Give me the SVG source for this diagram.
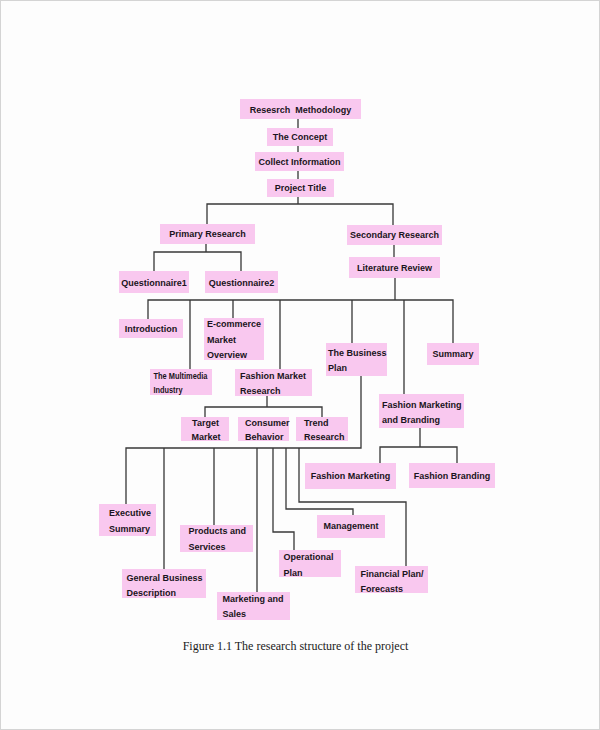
<svg xmlns="http://www.w3.org/2000/svg" width="600" height="730" viewBox="0 0 600 730">
<style>
.b{fill:#f9c8ef}
.t{font-family:"Liberation Sans",Arial,sans-serif;font-weight:bold;font-size:9px;fill:#1a1420;white-space:pre}
.c{text-anchor:middle}
.ln{fill:none;stroke:#383838;stroke-width:1.3}
</style>
<rect x="0.5" y="0.5" width="599" height="729" fill="#fdfdfd" stroke="#d4d4d4" stroke-width="1"/>
<g id="connectors" class="ln">
<path d="M298,119V128M298,146V152M298,171V179"/>
<path d="M298,197V204M207,224V204H393V225"/>
<path d="M206,244V252M154,271V252H241V271"/>
<path d="M394,245V257"/>
<path d="M395,278V300M148,319V300H453V343"/>
<path d="M190,300V369M233,300V318M280,300V369M352,300V343M404,300V394"/>
<path d="M267,396V407M205,417V407H322V417"/>
<path d="M420,428V447M380,463V447H457V463"/>
<path d="M361,376V448H126V504"/>
<path d="M164,448V569M214,448V525M257,448V592"/>
<path d="M273,448V532H294V550"/>
<path d="M286,448V509H353V515"/>
<path d="M299,448V502H406V566"/>
</g>
<g id="n-methodology"><rect class="b" x="240" y="99" width="121" height="20"/><text class="t c" x="300.5" y="112.5">Resesrch  Methodology</text></g>
<g id="n-concept"><rect class="b" x="267" y="128" width="66" height="18"/><text class="t c" x="300" y="140">The Concept</text></g>
<g id="n-collect"><rect class="b" x="255" y="152" width="89" height="19"/><text class="t c" x="299.5" y="164.5">Collect Information</text></g>
<g id="n-title"><rect class="b" x="267" y="179" width="67" height="18"/><text class="t c" x="300.5" y="191">Project Title</text></g>
<g id="n-primary"><rect class="b" x="160" y="224" width="95" height="20"/><text class="t c" x="207.5" y="237">Primary Research</text></g>
<g id="n-secondary"><rect class="b" x="347" y="225" width="95" height="20"/><text class="t c" x="394.5" y="238">Secondary Research</text></g>
<g id="n-q1"><rect class="b" x="119" y="271" width="70" height="22"/><text class="t c" x="154" y="285.5">Questionnaire1</text></g>
<g id="n-q2"><rect class="b" x="205" y="271" width="73" height="22"/><text class="t c" x="241.5" y="285.5">Questionnaire2</text></g>
<g id="n-litreview"><rect class="b" x="349" y="257" width="91" height="21"/><text class="t c" x="394.5" y="270.5">Literature Review</text></g>
<g id="n-intro"><rect class="b" x="119" y="319" width="64" height="19"/><text class="t c" x="151" y="331.5">Introduction</text></g>
<g id="n-ecommerce"><rect class="b" x="204" y="318" width="60" height="42"/><text class="t" x="207" y="327">E-commerce</text><text class="t" x="207" y="342.5">Market</text><text class="t" x="207" y="358">Overview</text></g>
<g id="n-multimedia"><rect class="b" x="150" y="369" width="62" height="26"/><text class="t" x="153.5" y="378.5" style="font-size:8.7px" textLength="54" lengthAdjust="spacingAndGlyphs">The Multimedia</text><text class="t" x="153.5" y="392.5" style="font-size:8.7px" textLength="29" lengthAdjust="spacingAndGlyphs">Industry</text></g>
<g id="n-fashionmarket"><rect class="b" x="235" y="369" width="77" height="27"/><text class="t" x="240" y="378.5">Fashion Market</text><text class="t" x="240" y="394">Research</text></g>
<g id="n-bizplan"><rect class="b" x="326" y="343" width="61" height="33"/><text class="t" x="328" y="356">The Business</text><text class="t" x="328" y="371">Plan</text></g>
<g id="n-summary"><rect class="b" x="427" y="343" width="52" height="22"/><text class="t c" x="453" y="357">Summary</text></g>
<g id="n-fmb"><rect class="b" x="379" y="394" width="85" height="34"/><text class="t" x="382" y="407.5">Fashion Marketing</text><text class="t" x="382" y="423">and Branding</text></g>
<g id="n-fmarketing"><rect class="b" x="305" y="463" width="91" height="26"/><text class="t c" x="350.5" y="478.5">Fashion Marketing</text></g>
<g id="n-fbranding"><rect class="b" x="409" y="463" width="86" height="25"/><text class="t c" x="452" y="478.5">Fashion Branding</text></g>
<g id="n-target"><rect class="b" x="181" y="417" width="48" height="24"/><text class="t c" x="205.5" y="425.5">Target</text><text class="t c" x="206" y="439.5">Market</text></g>
<g id="n-consumer"><rect class="b" x="238" y="417" width="51" height="24"/><text class="t" x="245" y="425.5">Consumer</text><text class="t" x="245" y="439.5">Behavior</text></g>
<g id="n-trend"><rect class="b" x="296" y="417" width="52" height="24"/><text class="t" x="304" y="425.5">Trend</text><text class="t" x="304" y="439.5">Research</text></g>
<g id="n-exec"><rect class="b" x="99" y="504" width="57" height="32"/><text class="t" x="109" y="516">Executive</text><text class="t" x="109" y="531.5">Summary</text></g>
<g id="n-products"><rect class="b" x="180" y="525" width="73" height="27"/><text class="t" x="188.5" y="534">Products and</text><text class="t" x="188.5" y="550">Services</text></g>
<g id="n-general"><rect class="b" x="122" y="569" width="84" height="29"/><text class="t" x="126.5" y="580.5">General Business</text><text class="t" x="126.5" y="596">Description</text></g>
<g id="n-marketing"><rect class="b" x="217" y="592" width="73" height="28"/><text class="t" x="222.5" y="602">Marketing and</text><text class="t" x="222.5" y="617">Sales</text></g>
<g id="n-operational"><rect class="b" x="279" y="550" width="62" height="27"/><text class="t" x="283.5" y="560">Operational</text><text class="t" x="283.5" y="575.5">Plan</text></g>
<g id="n-management"><rect class="b" x="317" y="515" width="68" height="23"/><text class="t c" x="351" y="529">Management</text></g>
<g id="n-financial"><rect class="b" x="355" y="566" width="73" height="27"/><text class="t" x="360.5" y="576.5">Financial Plan/</text><text class="t" x="360.5" y="592">Forecasts</text></g>
<text x="295.5" y="649.5" text-anchor="middle" style="font-family:'Liberation Serif','Times New Roman',serif;font-size:12px;fill:#1a1a1a">Figure 1.1 The research structure of the project</text>
</svg>
